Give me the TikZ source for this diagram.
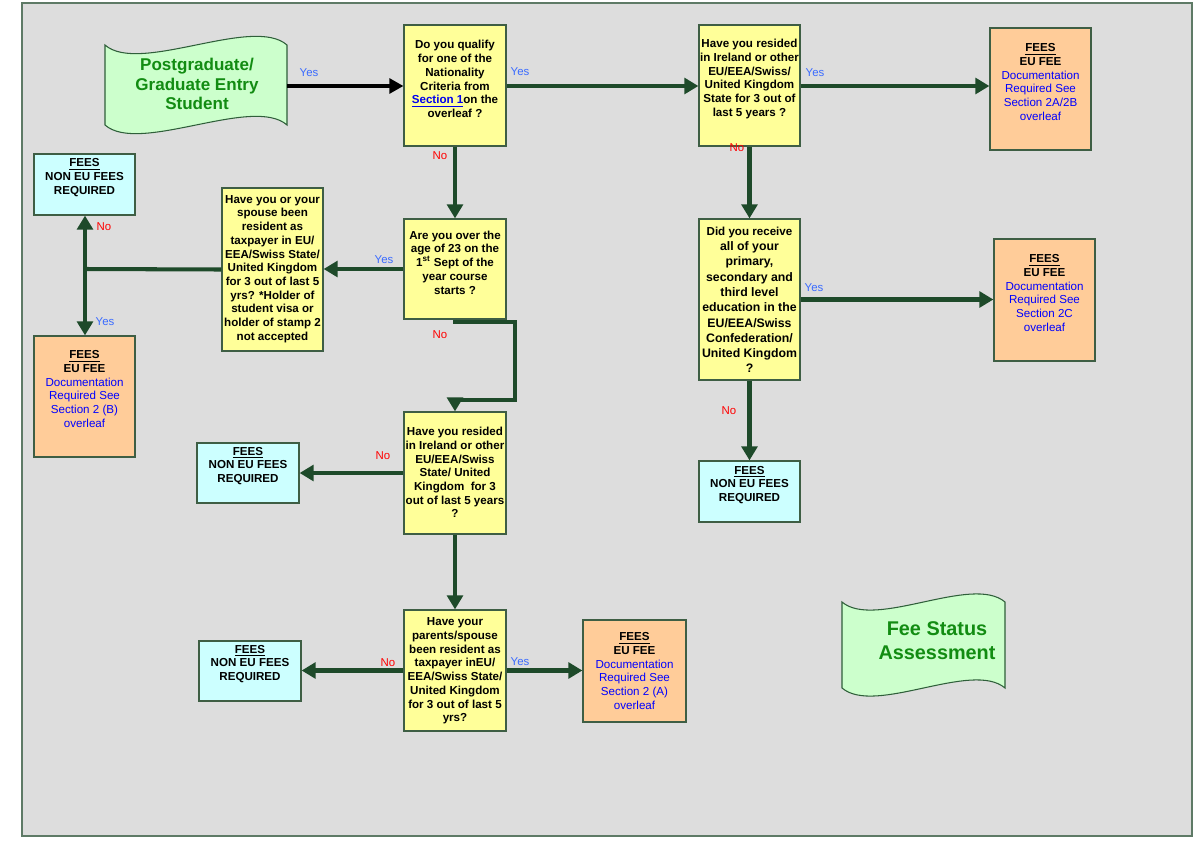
\documentclass[tikz,border=0pt]{standalone}
\usepackage{fontspec}
\setmainfont{Liberation Sans}
\usetikzlibrary{arrows.meta,fit}
\definecolor{bggray}{HTML}{DDDDDD}
\definecolor{framec}{HTML}{5E7A66}
\definecolor{qyellow}{HTML}{FFFF99}
\definecolor{ncyan}{HTML}{CCFFFF}
\definecolor{eorange}{HTML}{FFCC99}
\definecolor{wgreen}{HTML}{CCFFCC}
\definecolor{wtext}{HTML}{128C12}
\definecolor{wline}{HTML}{2F5F3A}
\definecolor{boxline}{HTML}{3E5E44}
\definecolor{connc}{HTML}{1E4A2A}
\definecolor{yesblue}{HTML}{3A6BFF}
\definecolor{nored}{HTML}{FF0000}
\definecolor{docblue}{HTML}{0000FF}
\definecolor{linkblue}{HTML}{0000EE}
\newcommand{\dl}[1]{\textcolor{docblue}{\mdseries #1}}
\newcommand{\fees}{\underline{FEES}}
\tikzset{
  boxbase/.style={draw=boxline, line width=0.7pt, inner sep=0pt},
  qbox/.style={boxbase, fill=qyellow},
  nbox/.style={boxbase, fill=ncyan},
  ebox/.style={boxbase, fill=eorange},
  wave/.style={draw=wline, fill=wgreen, line width=0.6pt},
  txt/.style={align=center, inner sep=0pt, font=\fontsize{6.6}{7.8}\selectfont\bfseries},
  bigtxt/.style={align=center, inner sep=0pt, font=\fontsize{7}{8.7}\selectfont\bfseries},
  wtxt/.style={align=center, inner sep=0pt, text=wtext, font=\fontsize{9.7}{11.3}\selectfont\bfseries},
  wtxtb/.style={align=center, inner sep=0pt, text=wtext, font=\fontsize{11.3}{13.6}\selectfont\bfseries},
  connline/.style={draw=connc, line width=2.3pt},
  conn/.style={connline, -{Triangle[width=9pt,length=8pt]}},
  startconn/.style={draw=black, line width=1.8pt, -{Triangle[width=8.5pt,length=8pt]}},
  yeslbl/.style={inner sep=0pt, text=yesblue, font=\fontsize{6.5}{7.5}\selectfont},
  nolbl/.style={inner sep=0pt, text=nored, font=\fontsize{6.5}{7.5}\selectfont},
}
\begin{document}
\begin{tikzpicture}[x=0.02cm, y=-0.02cm]
\useasboundingbox (0,0) rectangle (1200,849);
\fill[white] (0,0) rectangle (1200,849);
\filldraw[fill=bggray, draw=framec, line width=0.6pt] (22,3) rectangle (1192,836);

% wave shapes
\filldraw[wave] (105,45) .. controls (139,75) and (253,15) .. (287,45) -- (287,125) .. controls (253,95) and (139,155) .. (105,125) -- cycle;
\node[wtxt] (start) at (197,84) {Postgraduate/\\Graduate Entry\\Student};
\coordinate (startE) at (287,86);

\filldraw[wave] (842,602) .. controls (875,630) and (972,574) .. (1005,602) -- (1005,688) .. controls (972,660) and (875,716) .. (842,688) -- cycle;
\node[wtxtb] (fsa) at (937,641) {Fee Status\\Assessment};

% boxes
\node[qbox, fit={(404,25) (506,146)}] (q1) {};
\node[qbox, fit={(699,25) (800,146)}] (q2) {};
\node[ebox, fit={(990,28) (1091,150)}] (e1) {};
\node[nbox, fit={(34,154) (135,215)}] (n1) {};
\node[qbox, fit={(222,188) (323,351)}] (qt) {};
\node[ebox, fit={(34,336) (135,457)}] (e2) {};
\node[qbox, fit={(404,219) (506,319)}] (q3) {};
\node[qbox, fit={(699,219) (800,380)}] (q4) {};
\node[ebox, fit={(994,239) (1095,361)}] (e3) {};
\node[qbox, fit={(404,412) (506,534)}] (q5) {};
\node[nbox, fit={(197,443) (299,503)}] (n2) {};
\node[qbox, fit={(404,610) (506,731)}] (q6) {};
\node[nbox, fit={(199,641) (301,701)}] (n3) {};
\node[ebox, fit={(583,620) (686,722)}] (e4) {};
\node[nbox, fit={(699,461) (800,522)}] (n4) {};

% texts
\node[txt] (q1t) at (455,79) {Do you qualify\\for one of the\\Nationality\\Criteria from\\\textcolor{linkblue}{\underline{Section 1}}on the\\overleaf ?};
\node[txt] (q2t) at (749.5,79) {Have you resided\\in Ireland or other\\EU/EEA/Swiss/\\United Kingdom\\State for 3 out of\\last 5 years ?};
\node[txt] (e1t) at (1040.5,82) {\fees\\EU FEE\\\dl{Documentation}\\\dl{Required See}\\\dl{Section 2A/2B}\\\dl{overleaf}};
\node[txt] (n1t) at (84.5,177.5) {\fees\\NON EU FEES\\REQUIRED};
\node[txt] (qtt) at (272.5,269) {Have you or your\\spouse been\\resident as\\taxpayer in EU/\\EEA/Swiss State/\\United Kingdom\\for 3 out of last 5\\yrs? *Holder of\\student visa or\\holder of stamp 2\\not accepted};
\node[txt] (e2t) at (84.5,389) {\fees\\EU FEE\\\dl{Documentation}\\\dl{Required See}\\\dl{Section 2 (B)}\\\dl{overleaf}};
\node[txt] (q3t) at (455,262.5) {Are you over the\\age of 23 on the\\1\textsuperscript{st} Sept of the\\year course\\starts ?};
\node[bigtxt] (q4t) at (749.5,300) {{\fontsize{6.6}{8.7}\selectfont Did you receive}\\all of your\\primary,\\secondary and\\third level\\education in the\\EU/EEA/Swiss\\Confederation/\\United Kingdom\\?};
\node[txt] (e3t) at (1044.5,293) {\fees\\EU FEE\\\dl{Documentation}\\\dl{Required See}\\\dl{Section 2C}\\\dl{overleaf}};
\node[txt] (q5t) at (455,472.5) {Have you resided\\in Ireland or other\\EU/EEA/Swiss\\State/ United\\Kingdom\ \ for 3\\out of last 5 years\\?};
\node[txt] (n2t) at (248,466) {\fees\\NON EU FEES\\REQUIRED};
\node[txt] (q6t) at (455,671) {Have your\\parents/spouse\\been resident as\\taxpayer inEU/\\EEA/Swiss State/\\United Kingdom\\for 3 out of last 5\\yrs?};
\node[txt] (n3t) at (250,664) {\fees\\NON EU FEES\\REQUIRED};
\node[txt] (e4t) at (634.5,671) {\fees\\EU FEE\\\dl{Documentation}\\\dl{Required See}\\\dl{Section 2 (A)}\\\dl{overleaf}};
\node[txt] (n4t) at (749.5,485) {\fees\\NON EU FEES\\REQUIRED};

% connectors
\draw[startconn] (startE) -- (q1.west |- startE);
\draw[conn] (q1.east |- startE) -- (q2.west |- startE);
\draw[conn] (q2.east |- startE) -- (e1.west |- startE);
\draw[conn] (q1.south) -- (q3.north);
\draw[conn] (q2.south) -- (q4.north);
\draw[conn] (q3.west) -- (qt.east |- q3.west);
\coordinate (j) at (85,269);
\draw[connline] (qt.west) -- (j);
\draw[conn] (j) -- (j |- n1.south);
\draw[conn] (j) -- (j |- e2.north);
\coordinate (b1) at (515,322);
\coordinate (b2) at (515,400);
\draw[conn] (q3.south) |- (b1) -- (b2) -| (q5.north);
\draw[conn] (q5.west) -- (n2.east |- q5.west);
\draw[conn] (q5.south) -- (q6.north);
\draw[conn] (q6.west) -- (n3.east |- q6.west);
\draw[conn] (q6.east) -- (e4.west |- q6.east);
\draw[conn] (q4.east) -- (e3.west |- q4.east);
\draw[conn] (q4.south) -- (n4.north);

% labels
\node[yeslbl] (l1) at (309,73) {Yes};
\node[yeslbl] (l2) at (520,72) {Yes};
\node[yeslbl] (l3) at (815,73) {Yes};
\node[nolbl] (l4) at (440,156) {No};
\node[nolbl] (l5) at (737,148) {No};
\node[yeslbl] (l6) at (384,260) {Yes};
\node[nolbl] (l7) at (104,227) {No};
\node[yeslbl] (l8) at (105,322) {Yes};
\node[nolbl] (l9) at (440,335) {No};
\node[nolbl] (l10) at (383,456) {No};
\node[nolbl] (l11) at (388,663) {No};
\node[yeslbl] (l12) at (520,662) {Yes};
\node[yeslbl] (l13) at (814,288) {Yes};
\node[nolbl] (l14) at (729,411) {No};
\end{tikzpicture}
\end{document}
